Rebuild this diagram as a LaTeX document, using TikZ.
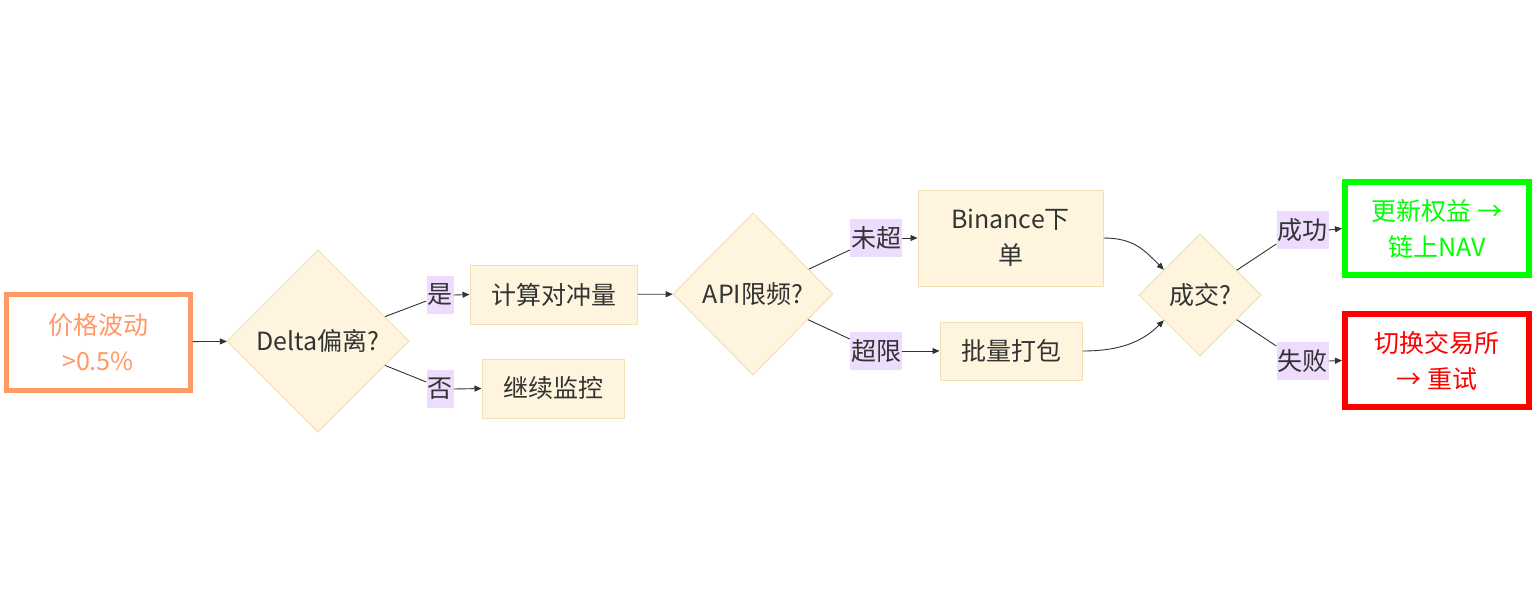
\documentclass[tikz,border=0pt]{standalone}
\usepackage{fontspec}
\setmainfont{Noto Sans CJK SC}
\usetikzlibrary{shapes.geometric,arrows.meta}
\definecolor{boxfill}{HTML}{FFF4DD}
\definecolor{boxline}{HTML}{F2DFB6}
\definecolor{lblfill}{HTML}{EEDCFF}
\definecolor{txt}{HTML}{333333}
\definecolor{edgec}{HTML}{333333}
\definecolor{startc}{HTML}{FF9966}
\definecolor{okc}{HTML}{00FF00}
\definecolor{failc}{HTML}{FF0000}
\begin{document}
\begin{tikzpicture}[x=1pt,y=-1pt,
  every node/.style={font=\fontsize{25}{36}\selectfont, text=txt, inner sep=0pt, align=center},
  proc/.style={rectangle, fill=boxfill, draw=boxline, line width=1pt},
  decision/.style={diamond, aspect=1, fill=boxfill, draw=boxline, line width=1pt},
  lbl/.style={fill=lblfill, inner xsep=1pt, minimum height=38pt},
  term/.style={rectangle, fill=white, minimum width=184pt},
  conn/.style={draw=edgec, line width=0.9pt},
  arr/.style={conn, -{Triangle[length=7pt,width=6pt]}}
]
\useasboundingbox[fill=white] (0,0) rectangle (1536,614);

\node[term, draw=startc, text=startc, line width=5pt, minimum height=96pt] (s) at (98,342) {价格波动\\>0.5\%};
\node[decision, minimum width=182pt, minimum height=182pt] (d) at (318,341) {Delta偏离?};
\node[lbl] (yes) at (440,295) {是};
\node[proc, minimum width=167pt, minimum height=59pt] (calc) at (553.5,294.5) {计算对冲量};
\node[lbl] (no) at (440,389) {否};
\node[proc, minimum width=142pt, minimum height=59pt] (mon) at (553,388.5) {继续监控};
\node[decision, minimum width=160pt, minimum height=162pt] (api) at (753,294) {API限频?};
\node[lbl] (under) at (876,238) {未超};
\node[lbl] (over) at (876,351) {超限};
\node[proc, minimum width=185pt, minimum height=96pt] (bn) at (1010.5,238) {Binance下\\单};
\node[proc, minimum width=142pt, minimum height=58pt] (batch) at (1011,351) {批量打包};
\node[decision, minimum width=122pt, minimum height=122pt] (deal) at (1200,295) {成交?};
\node[lbl] (succ) at (1302.5,230) {成功};
\node[lbl] (fail) at (1302.5,361) {失败};
\node[term, draw=okc, text=okc, line width=6pt, minimum height=93pt] (upd) at (1437,228.5) {更新权益 →\\链上NAV};
\node[term, draw=failc, text=failc, line width=6pt, minimum height=93pt] (sw) at (1437,360.5) {切换交易所\\→ 重试};

\draw[arr] (s) -- (d);
\draw[conn] (d.20) -- ([yshift=-6pt]yes.west);
\draw[arr] (yes.east) -- (calc.west);
\draw[conn] (d.-20) -- ([yshift=7pt]no.west);
\draw[arr] (no.east) -- (mon.west);
\draw[arr] (calc) -- (api);
\draw[conn] (api.24) -- ([yshift=-12pt]under.west);
\draw[arr] (under.east) -- (bn.west);
\draw[conn] (api.-25) -- ([yshift=12pt]over.west);
\draw[arr] (over.east) -- (batch.west);
\draw[arr] (bn.east) .. controls +(30,0) and +(-20,-20) .. (deal.145);
\draw[arr] (batch.east) .. controls +(40,0) and +(-20,20) .. (deal.215);
\draw[conn] (deal.34) -- ([yshift=-14pt]succ.west);
\draw[arr] (succ.east) -- (upd.west);
\draw[conn] (deal.-34) -- ([yshift=15pt]fail.west);
\draw[arr] (fail.east) -- (sw.west);
\end{tikzpicture}
\end{document}
